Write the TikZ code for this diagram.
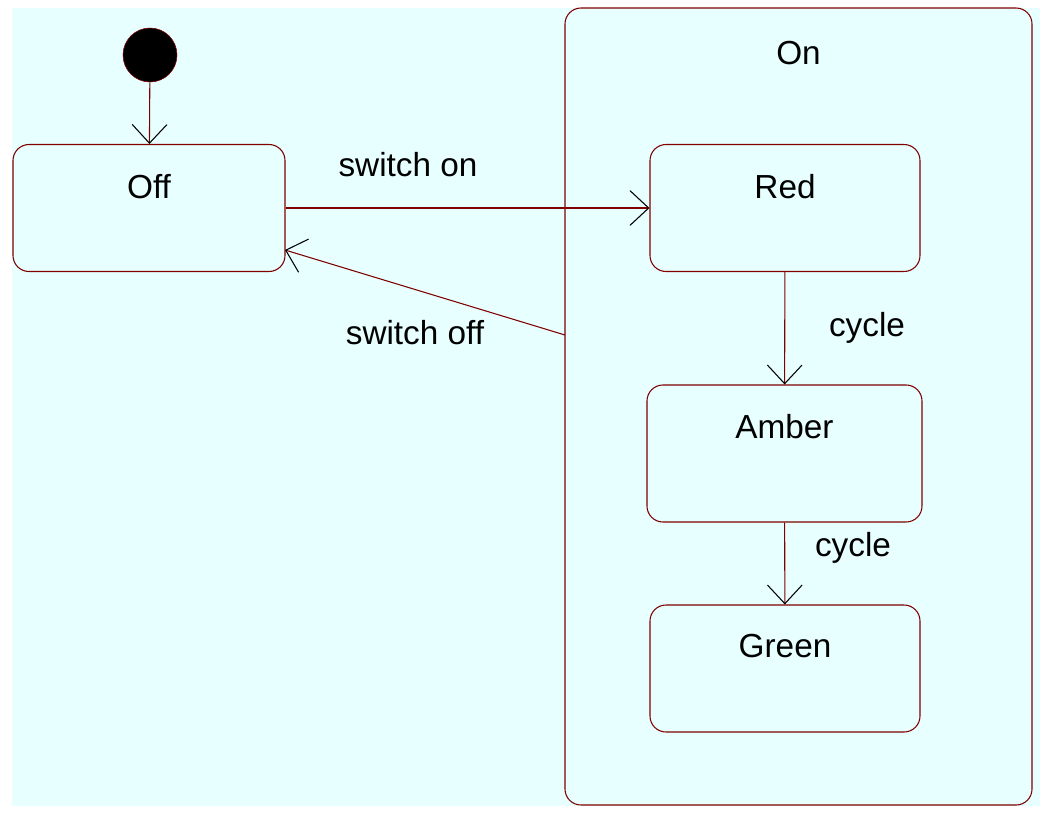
\documentclass[tikz,border=0pt]{standalone}
\usepackage{fontspec}
\setmainfont{Liberation Sans}
\usetikzlibrary{arrows.meta}
\definecolor{umlline}{RGB}{128,0,0}
\definecolor{umlbg}{RGB}{232,255,255}

\begin{document}
\begin{tikzpicture}[x=0.75pt, y=-0.75pt,
     font=\fontsize{25}{30}\selectfont,
     S/.style = {draw=umlline, rounded corners=12pt, line width=0.8pt},
   lab/.style = {anchor=north, yshift=-19pt},
    every edge/.style={draw=umlline, line width=0.8pt, -{Straight Barb[length=14pt,width=26pt,color=black]}}
                        ]
\useasboundingbox (0,0) rectangle (1049,822);
\fill[umlbg] (12,8) rectangle (1040,806);
% states
\node[S, minimum width=272*0.75pt, minimum height=127*0.75pt
     , label={[lab]north:Off}] (off) at (149,208) {};
\node[S, minimum width=467*0.75pt, minimum height=797*0.75pt
     , label={[lab, yshift=-3pt]north:On}] (on) at (798.5,406.5) {};
\node[S, minimum width=270*0.75pt, minimum height=127*0.75pt
     , label={[lab]north:Red}] (red) at (785,208) {};
\node[S, minimum width=275*0.75pt, minimum height=137*0.75pt
     , label={[lab]north:Amber}] (amber) at (784.5,453.5) {};
\node[S, minimum width=270*0.75pt, minimum height=127*0.75pt
     , label={[lab]north:Green}] (green) at (785,668.5) {};
\node[circle, draw=umlline, fill=black, minimum size=54*0.75pt, inner sep=0pt] (init) at (150,55) {};
\coordinate (onw) at (565,335);
\coordinate (offin) at (285,250);
% labels
\node (lon)  at (408,165) {switch on};
\node (loff) at (415,333) {switch off};
\node (lc1)  at (867,328) {cycle};
\node (lc2)  at (853,548) {cycle};

\draw   (init)  edge (off)
        (off.east) edge (red.west)
        (onw)   edge (offin)
        (red)   edge (amber)
        (amber) edge (green);
\end{tikzpicture}
\end{document}
